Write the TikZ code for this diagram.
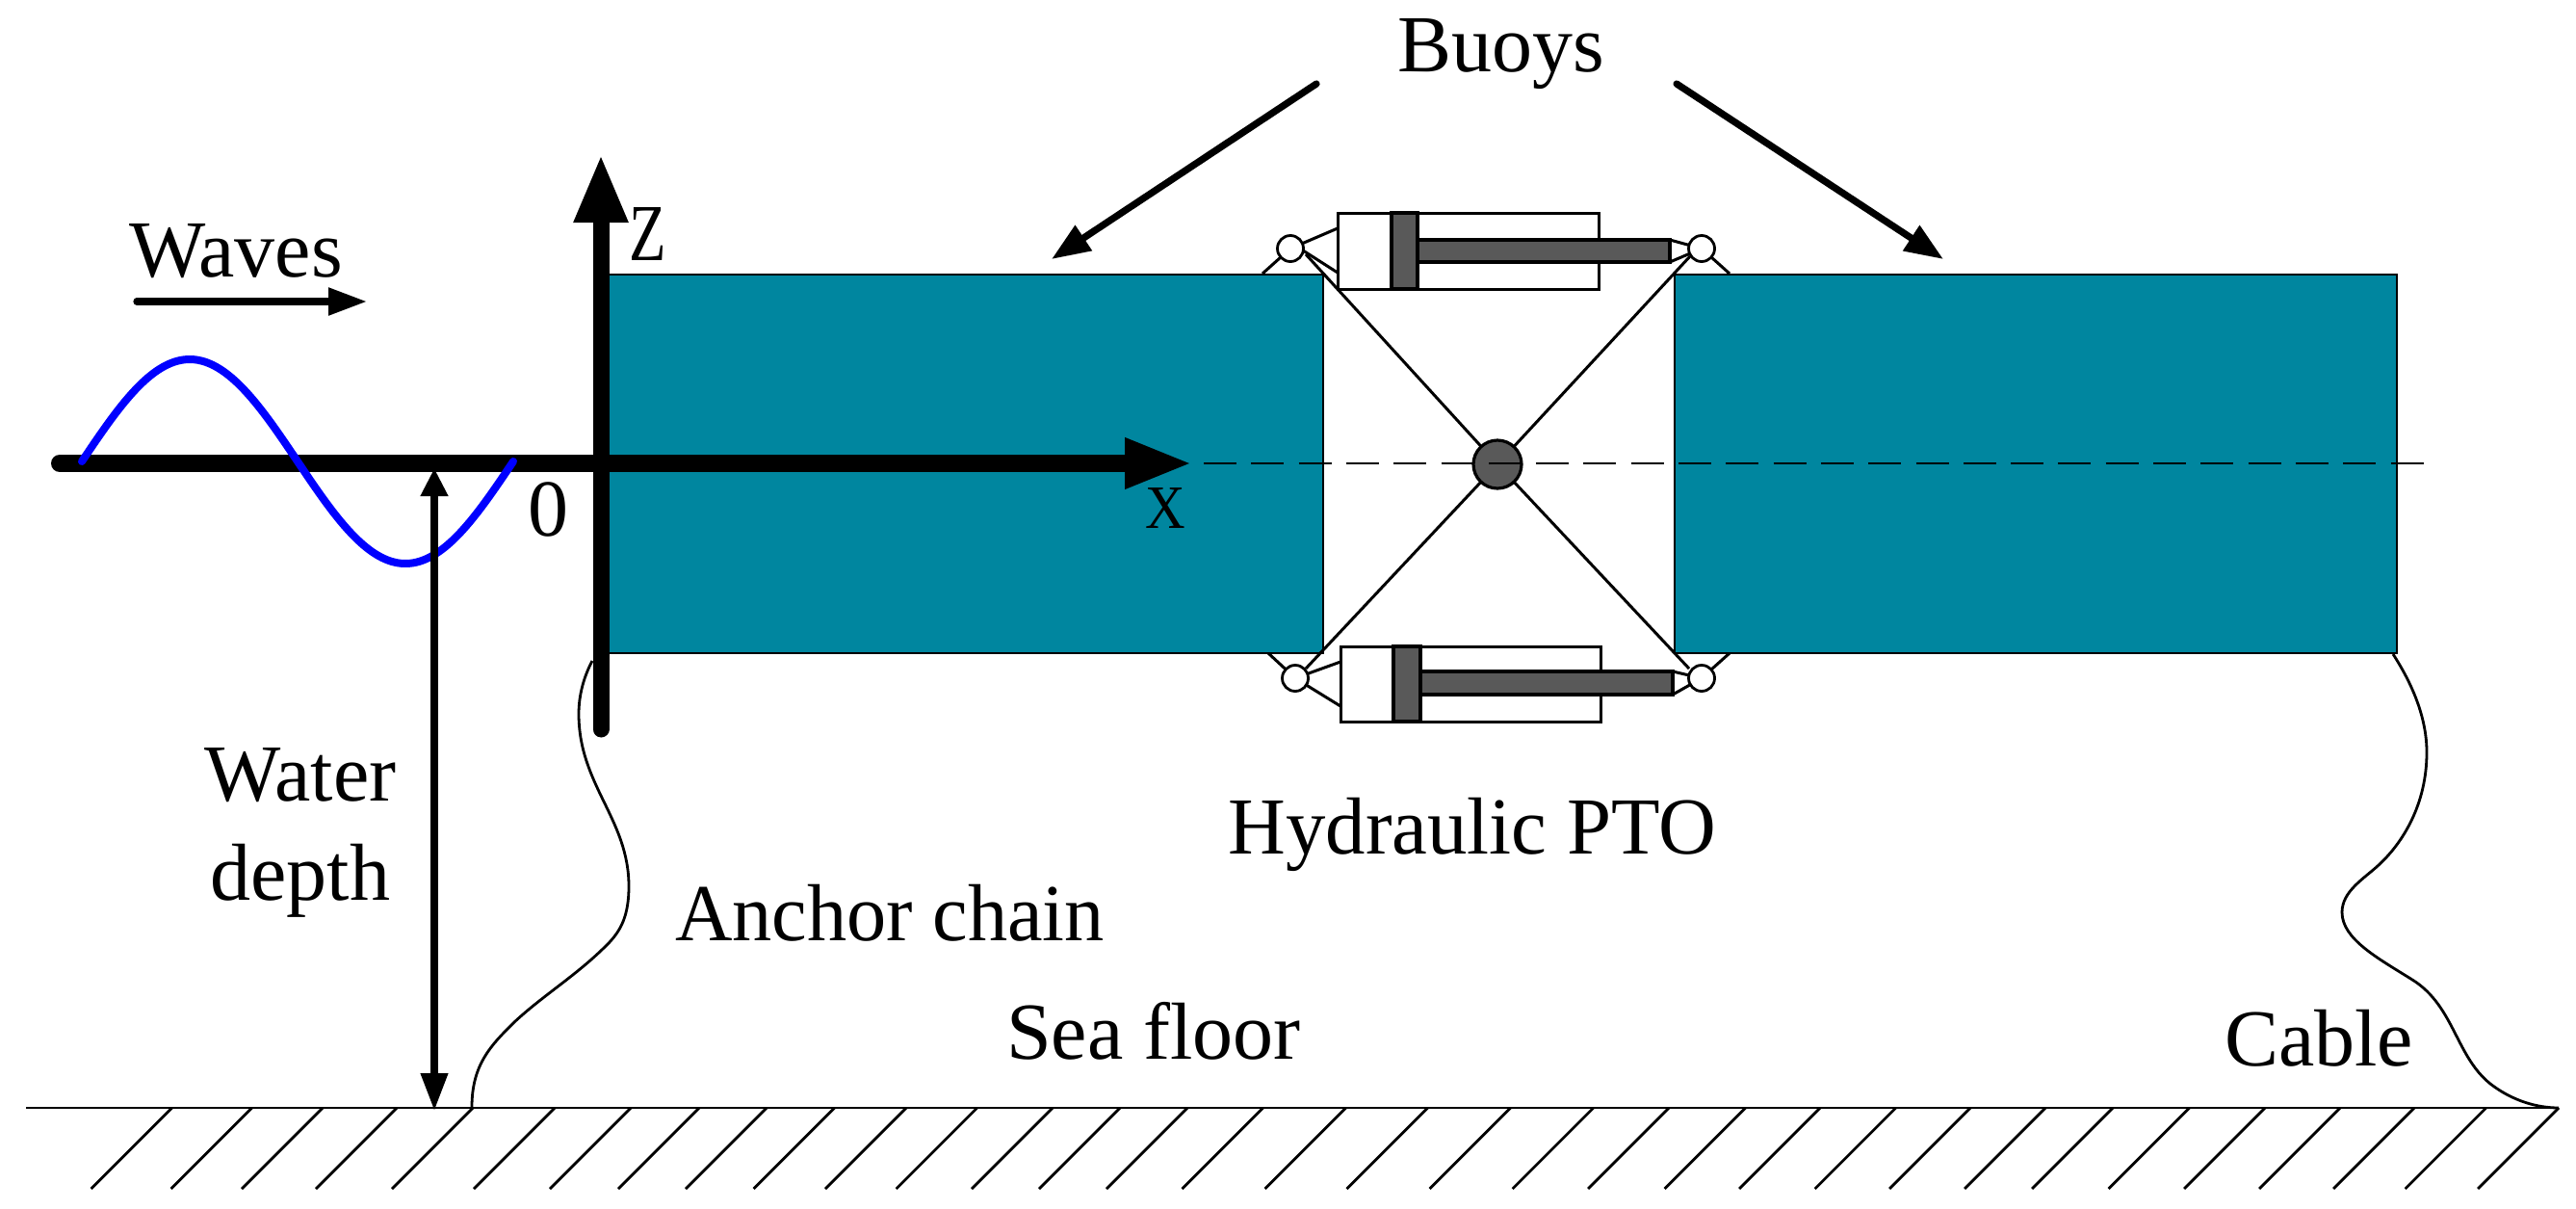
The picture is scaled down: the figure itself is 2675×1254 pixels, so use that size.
\documentclass[tikz,border=0pt]{standalone}
\usepackage{fontspec}
\usepackage{graphicx}
\setmainfont{Liberation Serif}
\usetikzlibrary{arrows.meta}
\definecolor{buoy}{HTML}{00869F}
\definecolor{pist}{HTML}{595959}
\definecolor{wavecol}{HTML}{0000FF}
\tikzset{
  buoybox/.style={draw=black,fill=buoy,line width=1.4pt},
  thinl/.style={line width=1.5pt},
  floorl/.style={line width=1.4pt},
  curvel/.style={line width=1.4pt},
  lbl/.style={font=\fontsize{42}{46}\selectfont,inner sep=0pt,anchor=base},
  cyl/.style={draw=black,fill=white,line width=1.5pt},
  pis/.style={draw=black,fill=pist,line width=1.6pt},
  joint/.style={circle,draw=black,fill=white,line width=1.4pt,minimum size=13.5pt,inner sep=0pt},
  hub/.style={circle,draw=black,fill=pist,line width=1.6pt,minimum size=25pt,inner sep=0pt},
  axisl/.style={line width=8.5pt},
  arrowl/.style={line width=3.6pt,line cap=round},
}
\begin{document}
\begin{tikzpicture}[x=0.5pt,y=-0.5pt]
\useasboundingbox (0,0) rectangle (2675,1254);
% sea floor
\foreach \x in {178.6,261.6,335,412,491,576,655,726,796,866.6,941,1014.7,1093,1163,1233,1311.5,1397.6,1482.5,1568.6,1654.7,1733,1812.6,1890,1968.7,2046,2124,2194,2273.5,2352,2430,2507,2581.7,2657}{
  \draw[floorl] (\x,1150) -- (\x-84,1234);
}
\coordinate (floorL) at (27,1150);
\coordinate (floorR) at (2657,1150);
\draw[floorl] (floorL) -- (floorR);
% anchor chain and cable
\draw[curvel] (615,686) .. controls (606,703) and (601,722) .. (601,741)
  .. controls (601,815) and (653,850) .. (653,920)
  .. controls (653,950) and (645,965) .. (633,978)
  .. controls (600,1012) and (565,1032) .. (533,1062)
  .. controls (510,1085) and (490,1105) .. (490,1149);
\draw[curvel] (2485,679) .. controls (2505,710) and (2520,745) .. (2520,781)
  .. controls (2520,835) and (2495,875) .. (2470,898)
  .. controls (2455,912) and (2432,925) .. (2432,947)
  .. controls (2432,975) and (2470,995) .. (2505,1017)
  .. controls (2550,1045) and (2550,1100) .. (2590,1128)
  .. controls (2611,1143) and (2635,1150) .. (2657,1150);
% buoys
\draw[buoybox] (632,285) rectangle (1374,678);
\draw[buoybox] (1739,285) rectangle (2489,678);
% cross bracing
\coordinate (hubC) at (1555,482);
\coordinate (jA) at (1340,258);
\coordinate (jB) at (1767,258);
\coordinate (jC) at (1345,704);
\coordinate (jD) at (1767,704);
\draw[thinl] (1356,264) -- (hubC) -- (1755,266);
\draw[thinl] (1356,694) -- (hubC) -- (1754,694);
% brackets to the buoys
\draw[thinl] (1311,284) -- (jA);
\draw[thinl] (1796,284) -- (jB);
\draw[thinl] (1317,678) -- (jC);
\draw[thinl] (1796,678) -- (jD);
% upper cylinder
\draw[thinl] (jA) -- (1389,237);
\draw[thinl] (1353,260) -- (1389,283);
\draw[cyl] (1389,221) rectangle (1660,300);
\draw[pis] (1445,221) rectangle (1472,300);
\draw[pis] (1472,249) rectangle (1734,272);
\draw[thinl] (1734,249) -- (jB);
\draw[thinl] (1734,272) -- (jB);
% lower cylinder
\draw[thinl] (jC) -- (1392,687);
\draw[thinl] (jC) -- (1392,733);
\draw[cyl] (1392,671) rectangle (1662,749);
\draw[pis] (1447,671) rectangle (1475,749);
\draw[pis] (1475,697) rectangle (1737,721);
\draw[thinl] (1737,697) -- (jD);
\draw[thinl] (1737,721) -- (jD);
% joints
\node[joint] (nA) at (jA) {};
\node[joint] (nB) at (jB) {};
\node[joint] (nC) at (jC) {};
\node[joint] (nD) at (jD) {};
\node[hub] (nHub) at (hubC) {};
% centre line
\coordinate (dashS) at (1250,481);
\coordinate (dashE) at (2525,481);
\draw[line width=1.3pt,dash pattern=on 17pt off 7.65pt] (dashS) -- (dashE);
% axes
\coordinate (xS) at (62,481);
\coordinate (xE) at (1239,481);
\coordinate (zS) at (624,757);
\coordinate (zE) at (624,160);
\draw[line width=9pt,line cap=round,-{Triangle[length=35.5pt,width=24pt]}] (xS) -- (xE);
\draw[axisl,line cap=round,-{Triangle[length=35.5pt,width=26pt]}] (zS) -- (zE);
% wave
\draw[wavecol,line width=4pt,line cap=round,domain=85:533,samples=90,smooth] plot (\x,{479-106*sin(0.80357*(\x-85))});
% depth arrow
\coordinate (dTop) at (451,486);
\coordinate (dBot) at (451,1153);
\draw[line width=3.6pt,{Triangle[length=14.5pt,width=13.5pt]}-{Triangle[length=19.5pt,width=13.5pt]}] (dTop) -- (dBot);
% waves arrow
\coordinate (wS) at (142,313);
\coordinate (wE) at (381,313);
\draw[arrowl,-{Triangle[length=20pt,width=13.7pt]}] (wS) -- (wE);
% buoy arrows
\coordinate (bL0) at (1367,87);
\coordinate (bL1) at (1092,269);
\coordinate (bR0) at (1741,87);
\coordinate (bR1) at (2018,269);
\draw[arrowl,-{Triangle[length=20pt,width=15pt]}] (bL0) -- (bL1);
\draw[arrowl,-{Triangle[length=20pt,width=15pt]}] (bR0) -- (bR1);
% labels
\node[lbl] (tBuoys) at (1559,74) {Buoys};
\node[lbl] (tWaves) at (245,287) {Waves};
\node[lbl] (tZ) at (673,270) {\scalebox{.75}[1]{Z}};
\node[lbl] (tX) at (1210,548) {\fontsize{32}{36}\selectfont\scalebox{.9}[1]{X}};
\node[lbl] (tO) at (569,556) {0};
\node[lbl] (tWater) at (312,831) {Water};
\node[lbl] (tDepth) at (312,934) {depth};
\node[lbl] (tPTO) at (1529,886) {\scalebox{.985}[1]{Hydraulic PTO}};
\node[lbl] (tAnchor) at (924,976) {\scalebox{.98}[1]{Anchor chain}};
\node[lbl] (tSea) at (1198,1099) {Sea floor};
\node[lbl] (tCable) at (2408,1106) {Cable};
\end{tikzpicture}
\end{document}
